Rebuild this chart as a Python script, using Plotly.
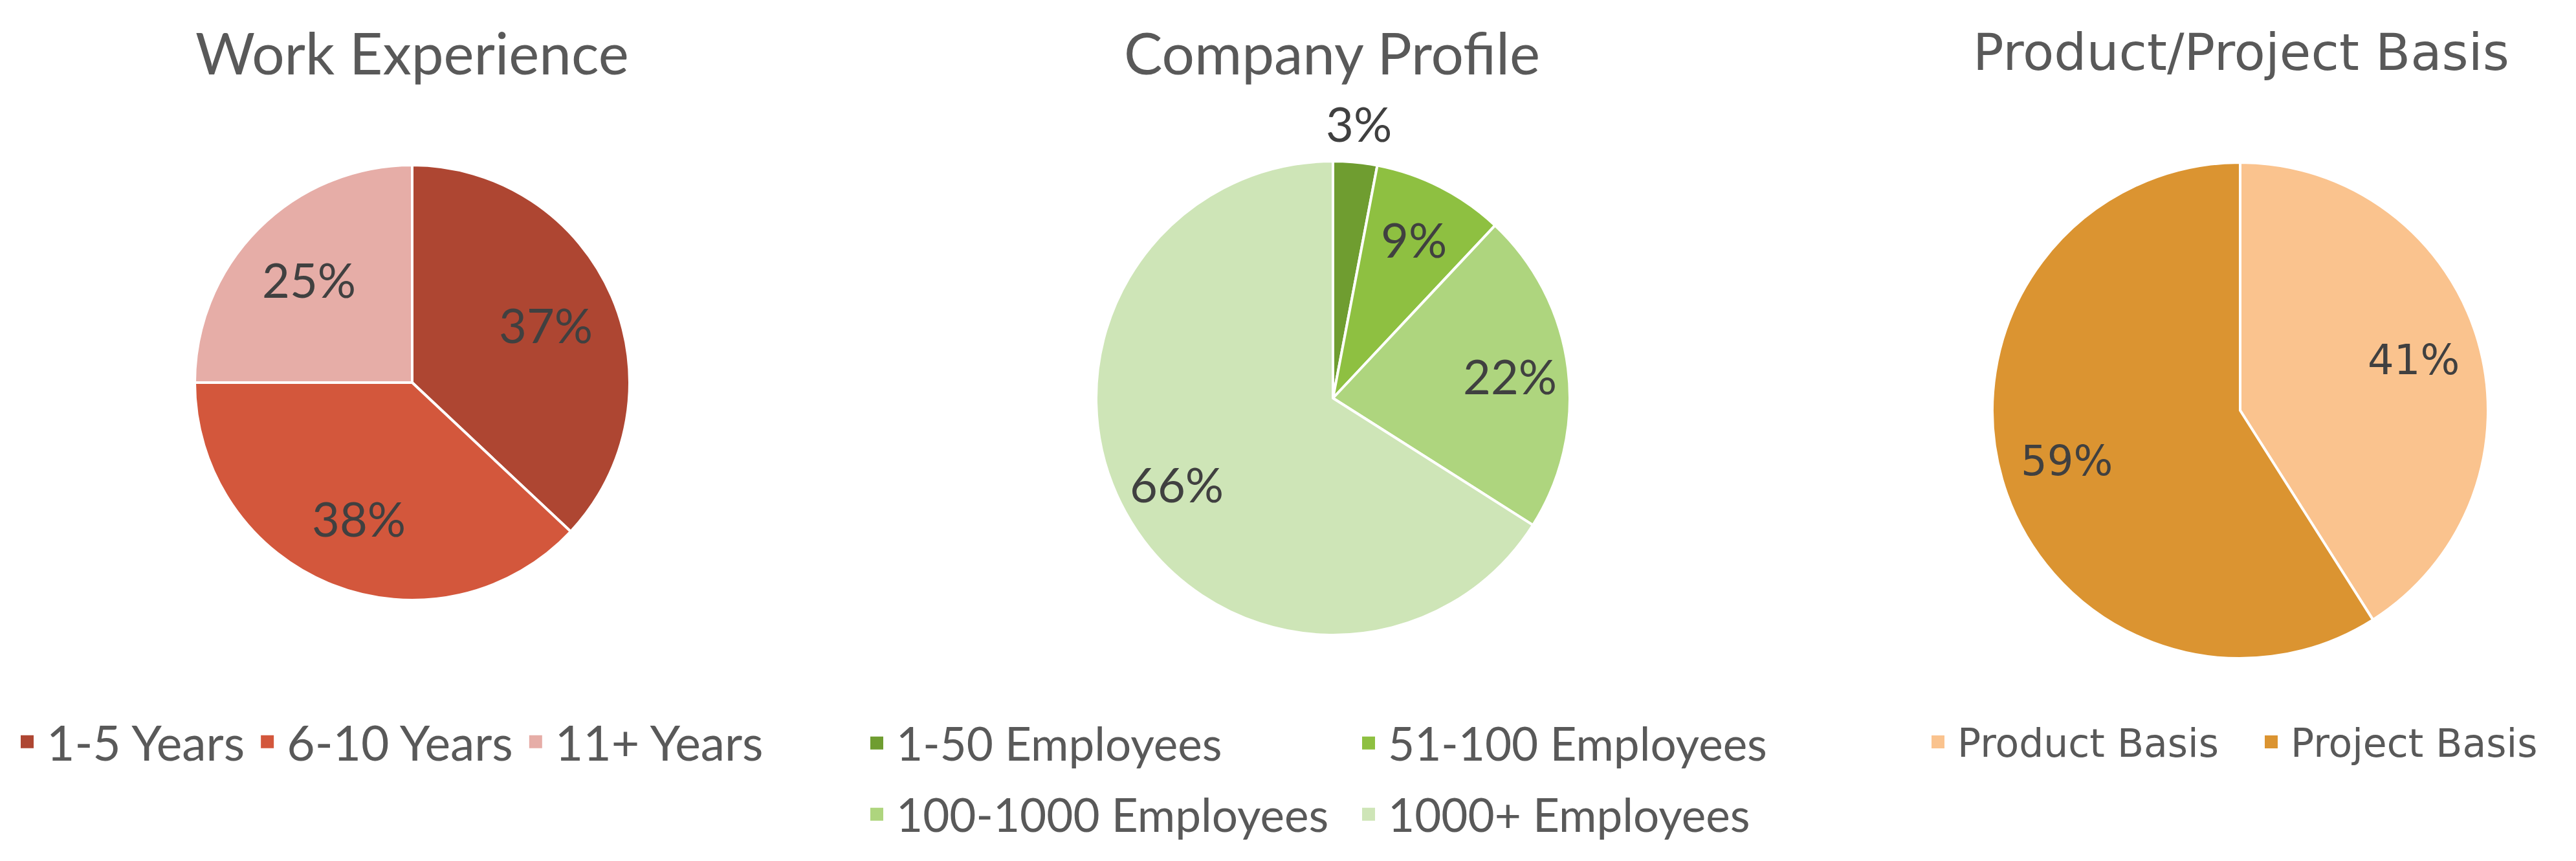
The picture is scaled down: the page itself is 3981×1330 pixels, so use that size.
import math
import plotly.graph_objects as go

# chart data
work_labels = ["1-5 Years", "6-10 Years", "11+ Years"]
work_values = [37, 38, 25]
work_colors = ["#AE4632", "#D3573C", "#E6ADA7"]

company_labels = ["1-50 Employees", "51-100 Employees", "100-1000 Employees", "1000+ Employees"]
company_values = [3, 9, 22, 66]
company_colors = ["#6F9D30", "#8EC041", "#AED57E", "#CEE5B7"]

basis_labels = ["Product Basis", "Project Basis"]
basis_values = [41, 59]
basis_colors = ["#FAC38E", "#DB9431"]

titles = ["Work Experience", "Company Profile", "Product/Project Basis"]

W, H = 3981, 1330
OFF = 8  # page body margin
LATO = "Lato, 'Open Sans', sans-serif"
WIDE = "'DejaVu Sans', Verdana, sans-serif"
TITLE_COLOR = "#595959"
LABEL_COLOR = "#404040"


def fx(px):
    return (px - OFF) / W


def fy(px):
    return 1 - (px - OFF) / H


fig = go.Figure()


def add_pie(labels, values, colors, box, k_in, font):
    left, top, right, bottom = box
    fig.add_trace(go.Pie(
        labels=labels, values=values, sort=False, direction="clockwise",
        rotation=0, textinfo="none", hoverinfo="label+percent", showlegend=False,
        marker=dict(colors=colors, line=dict(color="white", width=4)),
        domain=dict(x=[fx(left), fx(right)], y=[fy(bottom), fy(top)]),
    ))
    # percentage labels, Excel style (further out than plotly's default)
    cx, cy = (left + right) / 2, (top + bottom) / 2
    r = (right - left) / 2
    total = sum(values)
    cum = 0
    for v in values:
        frac = v / total
        theta = 2 * math.pi * (cum + frac / 2)
        cum += frac
        k = k_in if frac >= 0.05 else 1.16
        fig.add_annotation(
            text=f"{round(frac * 100)}%",
            x=fx(cx + k * r * math.sin(theta)), y=fy(cy - k * r * math.cos(theta)),
            xref="paper", yref="paper", xanchor="center", yanchor="middle",
            showarrow=False, font=font,
        )


add_pie(work_labels, work_values, work_colors, (301, 255, 973, 927), 0.67,
        dict(family=LATO, size=74, color=LABEL_COLOR))
add_pie(company_labels, company_values, company_colors, (1692, 249, 2428, 981), 0.75,
        dict(family=LATO, size=74, color=LABEL_COLOR))
add_pie(basis_labels, basis_values, basis_colors, (3079, 251, 3845, 1017), 0.73,
        dict(family=WIDE, size=64, color=LABEL_COLOR))

# legend entries (one square marker per slice)
legend_sets = [
    (work_labels, work_colors, ["legend"] * 3),
    (company_labels, company_colors, ["legend2", "legend2", "legend3", "legend3"]),
    (basis_labels, basis_colors, ["legend4"] * 2),
]
for labels, colors, legs in legend_sets:
    for lab, col, leg in zip(labels, colors, legs):
        fig.add_trace(go.Scatter(
            x=[None], y=[None], mode="markers", name=lab, legend=leg,
            marker=dict(symbol="square", size=16, color=col,
                        line=dict(color=col, width=4)),
            hoverinfo="skip",
        ))

# chart titles
title_pos = [(637, LATO, 89), (2058, LATO, 89), (3463, WIDE, 79)]
for text, (cx, fam, size) in zip(titles, title_pos):
    fig.add_annotation(
        text=text, x=fx(cx), y=fy(81), xref="paper", yref="paper",
        xanchor="center", yanchor="middle", showarrow=False,
        font=dict(family=fam, size=size, color=TITLE_COLOR),
    )

leg_base = dict(orientation="h", xanchor="left", yanchor="middle",
                bgcolor="rgba(0,0,0,0)", itemwidth=50,
                font=dict(family=LATO, size=71, color=TITLE_COLOR))

fig.update_layout(
    width=W, height=H,
    margin=dict(l=0, r=0, t=0, b=0, autoexpand=False),
    paper_bgcolor="white",
    plot_bgcolor="white",
    xaxis=dict(visible=False),
    yaxis=dict(visible=False),
    legend=dict(x=fx(12), y=fy(1146),
                **{**leg_base, "font": dict(family=LATO, size=75, color=TITLE_COLOR)}),
    legend2=dict(x=fx(1325), y=fy(1148), entrywidth=695, **leg_base),
    legend3=dict(x=fx(1325), y=fy(1258), entrywidth=695, **leg_base),
    legend4=dict(x=fx(2965), y=fy(1146), entrywidth=450,
                 **{**leg_base, "font": dict(family=WIDE, size=60, color=TITLE_COLOR)}),
)

fig.write_html("out.html")
